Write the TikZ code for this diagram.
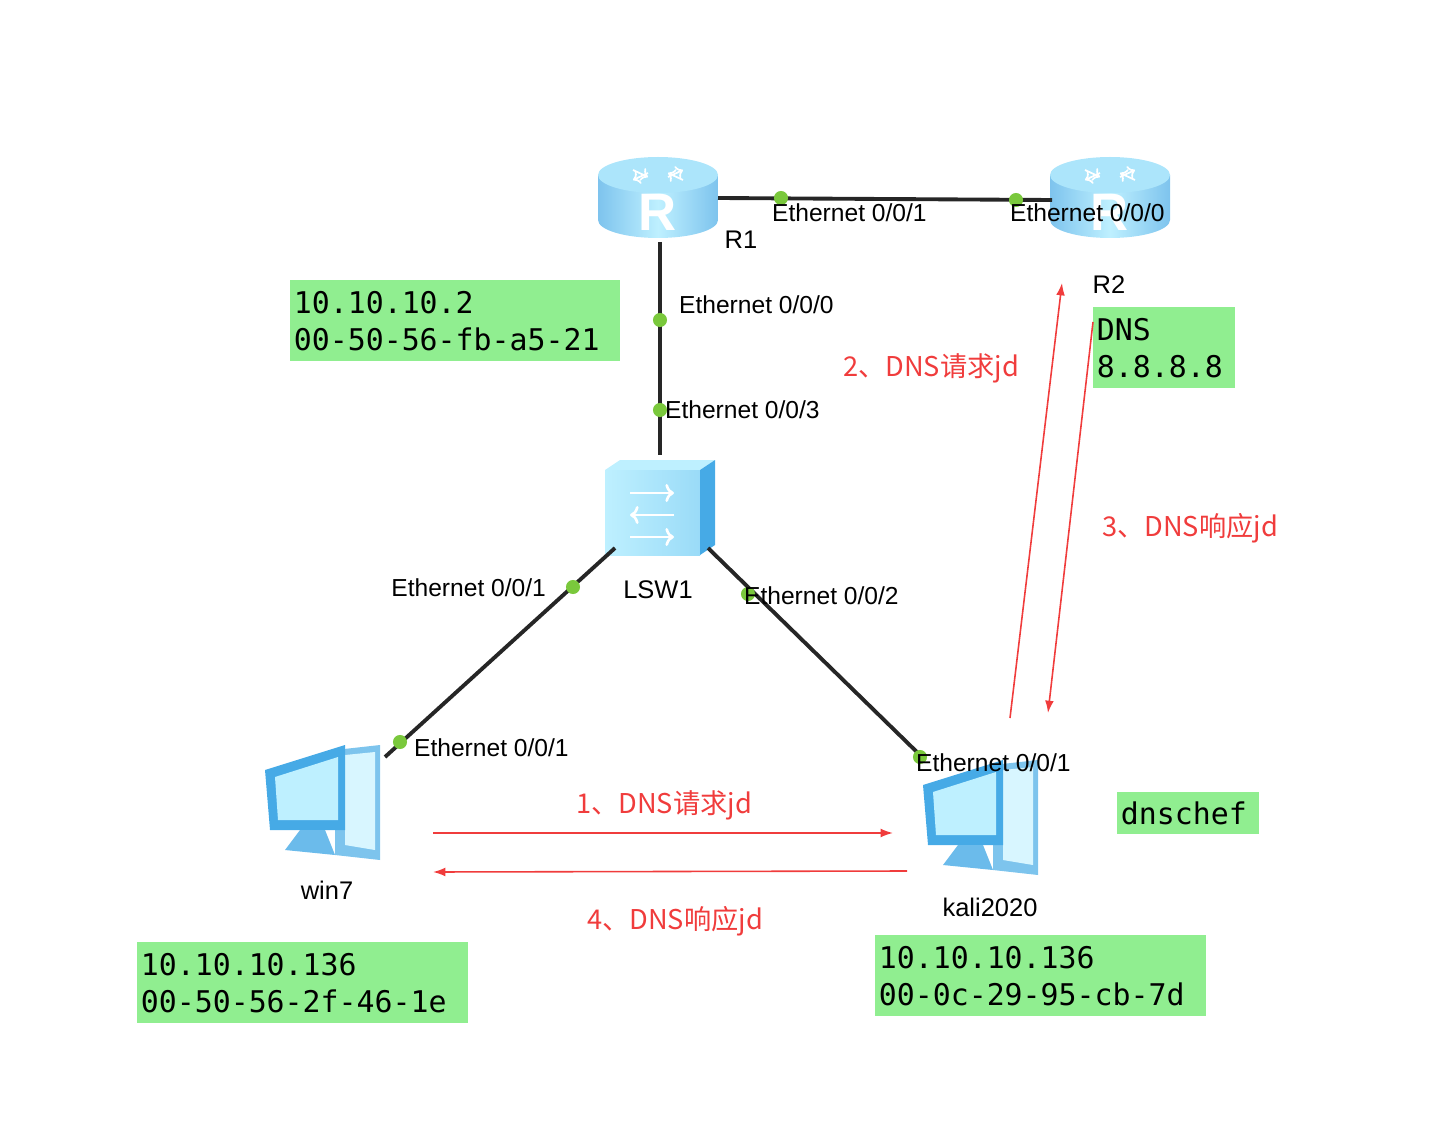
\documentclass[tikz,border=0pt]{standalone}
\usepackage{fontspec}
\setmainfont{Liberation Sans}
\newfontfamily\cjk{Noto Sans CJK SC}
\newfontfamily\monofont{DejaVu Sans Mono}
\usetikzlibrary{positioning,arrows.meta}
\definecolor{boxgreen}{RGB}{144,238,144}
\definecolor{portgreen}{RGB}{122,200,60}
\definecolor{iconlight}{RGB}{190,240,255}
\definecolor{icondark}{RGB}{70,170,230}
\definecolor{arrowred}{RGB}{240,60,60}

\begin{document}
\begin{tikzpicture}[x=0.02cm,y=-0.02cm,
link/.style={line width=2.2pt,black!85},
port/.style={circle,fill=portgreen,inner sep=0pt,minimum size=8pt},
portlabel/.style={font=\fontsize{14}{14}\selectfont,inner sep=1pt},
devlabel/.style={font=\fontsize{14.5}{14.5}\selectfont,inner sep=1pt},
infobox/.style={fill=boxgreen,font=\monofont\fontsize{17}{21}\selectfont,align=left,inner sep=2pt,anchor=north west},
flowlabel/.style={text=arrowred,font=\cjk\fontsize{15.5}{15.5}\selectfont,inner sep=1pt},
flow/.style={arrowred,line width=0.9pt,-{Latex[length=7pt,width=5pt]}},
icon/.style={inner sep=0pt,minimum width=2.4cm,minimum height=2cm},
router/.pic={
  \shade[left color=icondark!70,right color=icondark!70,middle color=iconlight] (-60,-15) -- (-60,30) arc (180:0:60 and 18) -- (60,-15) -- cycle;
  \fill[iconlight!85!icondark] (0,-15) ellipse (60 and 18);
  \node[white,font=\bfseries\fontsize{30}{30}\selectfont] at (0,22) {R};
  \draw[white,line width=1pt,->] (-25,-20) -- (-10,-13);
  \draw[white,line width=1pt,->] (25,-10) -- (10,-17);
  \draw[white,line width=1pt,->] (-10,-17) -- (-25,-10);
  \draw[white,line width=1pt,->] (10,-13) -- (25,-20);},
switch/.pic={
  \fill[iconlight] (-55,-35) -- (-40,-45) -- (55,-45) -- (40,-35) -- cycle;
  \shade[left color=iconlight,right color=iconlight!70!icondark] (-55,-35) rectangle (40,50);
  \fill[icondark] (40,-35) -- (55,-45) -- (55,40) -- (40,50) -- cycle;
  \foreach \yy/\dd in {-12/1,10/-1,32/1}
    \draw[white,line width=1.5pt,->] (-8-22*\dd,\yy) -- (-8+22*\dd,\yy);},
pc/.pic={
  \fill[icondark!70] (5,-55) -- (50,-60) -- (50,55) -- (5,50) -- cycle;
  \fill[iconlight!60] (15,-50) -- (45,-53) -- (45,45) -- (15,40) -- cycle;
  \fill[icondark] (-65,-35) -- (15,-60) -- (15,25) -- (-60,25) -- cycle;
  \fill[iconlight] (-55,-28) -- (8,-48) -- (8,15) -- (-52,15) -- cycle;
  \fill[icondark!80] (-30,25) -- (-5,25) -- (5,50) -- (-45,45) -- cycle;}]

\useasboundingbox (0,0) rectangle (1441,1135);

% devices
\node[icon] (R1) at (658,190) {};
\pic at (R1) {router};
\node[icon] (R2) at (1110,190) {};
\pic at (R2) {router};
\node[icon] (LSW1) at (660,505) {};
\pic at (LSW1) {switch};
\node[icon] (win7) at (330,805) {};
\pic at (win7) {pc};
\node[icon] (kali) at (988,820) {};
\pic at (kali) {pc};

\node[devlabel] (R1l) at (741,240) {R1};
\node[devlabel] (R2l) at (1109,285) {R2};
\node[devlabel] (LSWl) at (658,590) {LSW1};
\node[devlabel] (win7l) at (327,890) {win7};
\node[devlabel] (kalil) at (990,907) {kali2020};

% links
\coordinate (r1e) at (718,198);
\coordinate (r2w) at (1052,200);
\coordinate (r1s) at (660,242);
\coordinate (swn) at (660,455);
\coordinate (swsw) at (615,548);
\coordinate (swse) at (708,548);
\coordinate (wne) at (385,757);
\coordinate (kne) at (922,757);
\draw[link] (r1e) -- (r2w);
\draw[link] (r1s) -- (swn);
\draw[link] (swsw) -- (wne);
\draw[link] (swse) -- (kne);

\node[port] (p1) at (781,198) {};
\node[port] (p2) at (1016,200) {};
\node[port] (p3) at (660,320) {};
\node[port] (p4) at (660,410) {};
\node[port] (p5) at (573,587) {};
\node[port] (p6) at (748,594) {};
\node[port] (p7) at (400,742) {};
\node[port] (p8) at (920,757) {};

\node[portlabel,anchor=west] at (770,213) {Ethernet 0/0/1};
\node[portlabel,anchor=west] at (1008,213) {Ethernet 0/0/0};
\node[portlabel,anchor=west] at (677,305) {Ethernet 0/0/0};
\node[portlabel,anchor=west] at (663,410) {Ethernet 0/0/3};
\node[portlabel,anchor=east] at (548,588) {Ethernet 0/0/1};
\node[portlabel,anchor=west] at (742,596) {Ethernet 0/0/2};
\node[portlabel,anchor=west] at (412,748) {Ethernet 0/0/1};
\node[portlabel,anchor=west] at (914,763) {Ethernet 0/0/1};

% address boxes
\node[infobox,text width=323*0.02cm,minimum height=81*0.02cm] (addr1) at (290,280) {10.10.10.2\\00-50-56-fb-a5-21};
\node[infobox,text width=135*0.02cm,minimum height=81*0.02cm] (dns) at (1093,307) {DNS\\8.8.8.8};
\node[infobox,text width=135*0.02cm,minimum height=42*0.02cm] (chef) at (1117,792) {dnschef};
\node[infobox,text width=324*0.02cm,minimum height=81*0.02cm] (addrw) at (137,942) {10.10.10.136\\00-50-56-2f-46-1e};
\node[infobox,text width=324*0.02cm,minimum height=81*0.02cm] (addrk) at (875,935) {10.10.10.136\\00-0c-29-95-cb-7d};

% DNS flow
\coordinate (a1s) at (433,833);
\coordinate (a1e) at (893,833);
\coordinate (a4s) at (907,871);
\coordinate (a4e) at (433,872);
\coordinate (a2s) at (1010,718);
\coordinate (a2e) at (1062,283);
\coordinate (a3s) at (1093,322);
\coordinate (a3e) at (1048,713);
\draw[flow] (a1s) -- (a1e);
\draw[flow] (a4s) -- (a4e);
\draw[flow] (a2s) -- (a2e);
\draw[flow] (a3s) -- (a3e);
\node[flowlabel] at (664,805) {1、DNS请求jd};
\node[flowlabel] at (931,368) {2、DNS请求jd};
\node[flowlabel] at (1190,528) {3、DNS响应jd};
\node[flowlabel] at (675,921) {4、DNS响应jd};

\end{tikzpicture}
\end{document}
